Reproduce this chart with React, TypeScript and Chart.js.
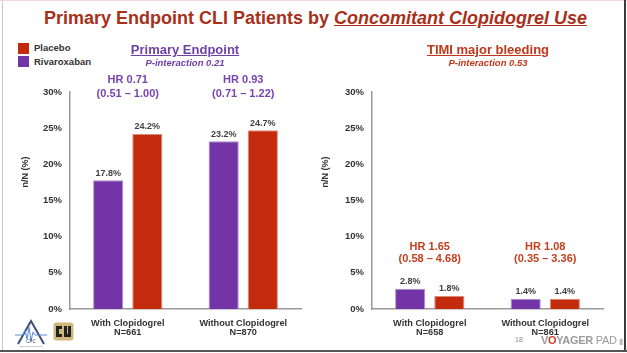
import React, { useEffect, useRef } from "react";
import { Chart, registerables } from "chart.js";

Chart.register(...registerables);

// ---- data ----
const primaryCategories = [["With Clopidogrel", "N=661"], ["Without Clopidogrel", "N=870"]];
const bleedCategories = [["With Clopidogrel", "N=658"], ["Without Clopidogrel", "N=861"]];
const primaryRivaroxaban = [17.8, 23.2];
const primaryPlacebo = [24.2, 24.7];
const bleedRivaroxaban = [2.8, 1.4];
const bleedPlacebo = [1.8, 1.4];
const primaryHR = [["HR 0.71", "(0.51 – 1.00)"], ["HR 0.93", "(0.71 – 1.22)"]];
const bleedHR = [["HR 1.65", "(0.58 – 4.68)"], ["HR 1.08", "(0.35 – 3.36)"]];
const yMin = 0;
const yMax = 30;
const yStep = 5;
const seriesNames = ["Rivaroxaban", "Placebo"];

const PURPLE = "#7234a6";
const RED = "#c42a0c";
const FONT = 'Arial, "Liberation Sans", sans-serif';

type PanelProps = {
  left: number;
  width: number;
  categories: string[][];
  riva: number[];
  placebo: number[];
  hr: string[][];
  hrColor: string;
  hrY: number[];
  titleX: number;
};

function Panel(p: PanelProps) {
  const ref = useRef<HTMLCanvasElement | null>(null);
  useEffect(() => {
    if (!ref.current) return;
    const labelsPlugin = {
      id: "labels",
      afterDraw(chart: any) {
        const ctx = chart.ctx;
        ctx.save();
        // value labels
        ctx.font = `bold 9px ${FONT}`;
        ctx.fillStyle = "#404040";
        ctx.textAlign = "center";
        ctx.textBaseline = "middle";
        chart.data.datasets.forEach((ds: any, di: number) => {
          const meta = chart.getDatasetMeta(di);
          meta.data.forEach((el: any, i: number) => {
            ctx.fillText(ds.data[i].toFixed(1) + "%", el.x, el.y - 7);
          });
        });
        // HR labels
        ctx.font = `bold 11px ${FONT}`;
        ctx.fillStyle = p.hrColor;
        const xs = chart.scales.x;
        p.hr.forEach((lines, i) => {
          const x = xs.getPixelForValue(i);
          lines.forEach((t, li) => ctx.fillText(t, x, p.hrY[li]));
        });
        // y title
        ctx.translate(p.titleX, 172);
        ctx.rotate(-Math.PI / 2);
        ctx.font = `bold 9px ${FONT}`;
        ctx.fillStyle = "#333";
        ctx.fillText("n/N (%)", 0, 0);
        ctx.restore();
      },
    };
    const chart = new Chart(ref.current, {
      type: "bar",
      data: {
        labels: p.categories,
        datasets: [
          {
            label: seriesNames[0],
            data: p.riva,
            backgroundColor: PURPLE,
            borderColor: "#a98fc6",
            borderWidth: 1,
            categoryPercentage: 0.678,
            barPercentage: 0.77,
          },
          {
            label: seriesNames[1],
            data: p.placebo,
            backgroundColor: RED,
            borderColor: "#d98a78",
            borderWidth: 1,
            categoryPercentage: 0.678,
            barPercentage: 0.77,
          },
        ],
      },
      options: {
        responsive: false,
        animation: false,
        layout: { padding: { top: 92, left: 0, bottom: 0, right: p.width - 70 - 231 } },
        plugins: { legend: { display: false }, tooltip: { enabled: false } },
        scales: {
          x: {
            grid: { display: false },
            border: { display: true, color: "#9a9a9a", width: 1.5 },
            ticks: {
              color: "#333",
              font: { family: FONT, size: 9.2, weight: "bold", lineHeight: 1.08 },
              padding: 1,
              maxRotation: 0,
              autoSkip: false,
            },
            afterFit: (s: any) => {
              s.height = 44;
            },
          },
          y: {
            min: yMin,
            max: yMax,
            grid: { display: false, drawTicks: false },
            border: { display: true, color: "#9a9a9a", width: 1.5 },
            ticks: {
              stepSize: yStep,
              color: "#333",
              padding: 8,
              font: { family: FONT, size: 9.5, weight: "bold" },
              callback: (v: any) => v + "%",
            },
            afterFit: (s: any) => {
              s.width = 70;
            },
          },
        },
      },
      plugins: [labelsPlugin],
    } as any);
    return () => chart.destroy();
  }, []);
  return (
    <canvas
      ref={ref}
      width={p.width}
      height={353}
      style={{ position: "absolute", left: p.left, top: 0, width: p.width, height: 353 }}
    />
  );
}

function Logos() {
  return (
    <>
      <svg style={{ position: "absolute", left: 14, top: 318 }} width={34} height={30} viewBox="0 0 34 30">
        <path d="M4 26 L17 3 L30 26" fill="none" stroke="#3b4f7a" strokeWidth={2} />
        <path d="M1 17 L9 17 L11 12 L13 21 L15 9 L17 23 L19 14 L21 17 L33 17" fill="none" stroke="#5b8ad0" strokeWidth={1} />
        <text x={17} y={25} fontSize={4.5} textAnchor="middle" fill="#3b4f7a" fontFamily={FONT}>CPC</text>
        <text x={17} y={29} fontSize={2.5} textAnchor="middle" fill="#777" fontFamily={FONT}>Colorado Prevention</text>
      </svg>
      <svg style={{ position: "absolute", left: 53, top: 322 }} width={21} height={19} viewBox="0 0 21 19">
        <rect x={0.5} y={0.5} width={20} height={18} rx={3} fill="#cfb87c" />
        <path d="M3 4 H9 V7 H6 V12 H9 V15 H3 Z" fill="#222" />
        <path d="M11 4 H14 V12 H15 V4 H18 V15 H11 Z" fill="#222" />
      </svg>
    </>
  );
}

export default function App() {
  return (
    <div
      style={{
        position: "fixed",
        left: 0,
        top: 0,
        width: 627,
        height: 353,
        background: "#fff",
        overflow: "hidden",
        fontFamily: FONT,
      }}
    >
      {/* frame */}
      <div style={{ position: "absolute", left: 2, top: 0, width: 1, height: 350, background: "#c8c8c8" }} />
      <div style={{ position: "absolute", left: 0, top: 0, width: 627, height: 1, background: "#f0d8d4" }} />
      <div style={{ position: "absolute", left: 624, top: 0, width: 2, height: 352, background: "#3a3a3a" }} />
      <div style={{ position: "absolute", left: 0, top: 350, width: 627, height: 2, background: "#555" }} />

      {/* title */}
      <div
        style={{
          position: "absolute",
          left: 0,
          width: 631,
          top: 8,
          textAlign: "center",
          fontSize: 18,
          fontWeight: "bold",
          color: "#a8301a",
          whiteSpace: "nowrap",
        }}
      >
        Primary Endpoint CLI Patients by{" "}
        <span style={{ fontStyle: "italic", textDecoration: "underline" }}>Concomitant Clopidogrel Use</span>
      </div>

      {/* legend */}
      <div style={{ position: "absolute", left: 18, top: 43, width: 11, height: 11, background: RED }} />
      <div style={{ position: "absolute", left: 34, top: 42, fontSize: 9.5, fontWeight: "bold", color: "#333", lineHeight: "12px" }}>
        Placebo
      </div>
      <div style={{ position: "absolute", left: 18, top: 56, width: 11, height: 11, background: PURPLE }} />
      <div style={{ position: "absolute", left: 34, top: 55.5, fontSize: 9.5, fontWeight: "bold", color: "#333", lineHeight: "12px" }}>
        Rivaroxaban
      </div>

      <Panel
        left={0}
        width={320}
        categories={primaryCategories}
        riva={primaryRivaroxaban}
        placebo={primaryPlacebo}
        hr={primaryHR}
        hrColor="#7a44b0"
        hrY={[80, 94]}
        titleX={26}
      />
      <Panel
        left={302}
        width={325}
        categories={bleedCategories}
        riva={bleedRivaroxaban}
        placebo={bleedPlacebo}
        hr={bleedHR}
        hrColor="#c4401f"
        hrY={[247, 259]}
        titleX={24}
      />

      {/* panel headings */}
      <div style={{ position: "absolute", left: 85, width: 200, top: 42, textAlign: "center", color: "#7040a8" }}>
        <div style={{ fontSize: 13, fontWeight: "bold", textDecoration: "underline", lineHeight: "15px" }}>Primary Endpoint</div>
        <div style={{ fontSize: 9.5, fontWeight: "bold", fontStyle: "italic", lineHeight: "12px", marginTop: 0 }}>
          P-interaction 0.21
        </div>
      </div>
      <div style={{ position: "absolute", left: 388, width: 200, top: 42, textAlign: "center", color: "#c0381a" }}>
        <div style={{ fontSize: 13, fontWeight: "bold", textDecoration: "underline", lineHeight: "15px" }}>TIMI major bleeding</div>
        <div style={{ fontSize: 9.5, fontWeight: "bold", fontStyle: "italic", lineHeight: "12px", marginTop: 0 }}>
          P-interaction 0.53
        </div>
      </div>

      <Logos />

      {/* footer */}
      <div style={{ position: "absolute", left: 515, top: 336, fontSize: 7, lineHeight: "8px", color: "#888" }}>18</div>
      <div
        style={{
          position: "absolute",
          left: 541,
          top: 334,
          fontSize: 11,
          lineHeight: "12px",
          color: "#9a9a9a",
          whiteSpace: "nowrap",
          letterSpacing: -0.3,
        }}
      >
        <span style={{ fontWeight: "bold" }}>
          V<span style={{ color: "#d0402a" }}>O</span>YAGER
        </span>
        <span> PAD</span>
        <span style={{ fontSize: 8, color: "#bbb" }}> ▮</span>
      </div>
    </div>
  );
}
